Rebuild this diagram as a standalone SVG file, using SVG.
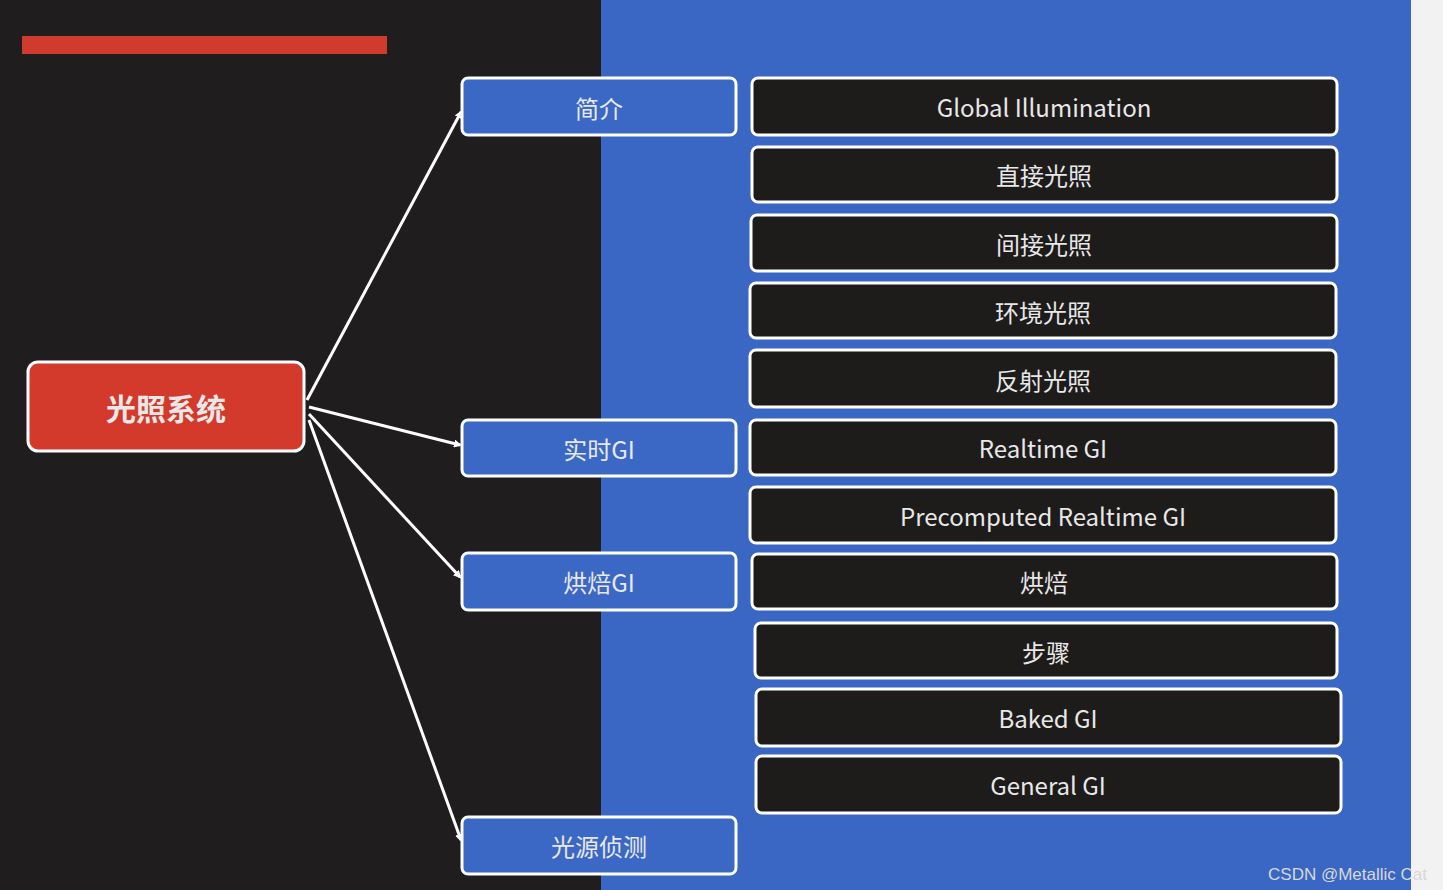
<svg xmlns="http://www.w3.org/2000/svg" width="1443" height="890" viewBox="0 0 1443 890">
<defs>
<style>
.b{fill:#3b68c4;stroke:#fff;stroke-width:3}
.k{fill:#1e1b1b;stroke:#fff;stroke-width:3}
.t{font-family:"Noto Sans CJK SC","Noto Sans",sans-serif;font-size:24px;fill:#e8e8e8;text-anchor:middle;dominant-baseline:central}
.c{stroke:#fff;stroke-width:3;fill:none;marker-end:url(#a)}
</style>
<marker id="a" markerWidth="8" markerHeight="8" refX="6" refY="4" orient="auto" markerUnits="userSpaceOnUse"><path d="M0,0L8,4L0,8z" fill="#fff"/></marker>
</defs>
<rect width="1443" height="890" fill="#1f1d1d"/>
<rect x="601" y="0" width="810" height="890" fill="#3a67c3"/>
<rect x="1411" y="0" width="32" height="890" fill="#f2f2f2"/>
<rect x="22" y="36" width="365" height="18" fill="#cf3b2c"/>
<g id="connectors">
<path class="c" d="M307,400L461,112"/>
<path class="c" d="M309,407L460,445"/>
<path class="c" d="M309,414L460,577"/>
<path class="c" d="M309,420L461,840"/>
</g>
<g id="root"><rect x="28" y="362" width="276" height="89" rx="10" fill="#d33a2c" stroke="#fff" stroke-width="3"/><text class="t" x="166" y="407" style="font-size:30px;font-weight:bold">光照系统</text></g>
<g id="n1"><rect class="b" x="462" y="78" width="274" height="57" rx="6"/><text class="t" x="599" y="107">简介</text></g>
<g id="n2"><rect class="b" x="462" y="420" width="274" height="56" rx="6"/><text class="t" x="599" y="448">实时GI</text></g>
<g id="n3"><rect class="b" x="462" y="553" width="274" height="57" rx="6"/><text class="t" x="599" y="581">烘焙GI</text></g>
<g id="n4"><rect class="b" x="462" y="817" width="274" height="57" rx="6"/><text class="t" x="599" y="845">光源侦测</text></g>
<g id="r1"><rect class="k" x="752" y="78" width="585" height="57" rx="6"/><text class="t" x="1044" y="106">Global Illumination</text></g>
<g id="r2"><rect class="k" x="752" y="147" width="585" height="55" rx="6"/><text class="t" x="1044" y="174">直接光照</text></g>
<g id="r3"><rect class="k" x="751" y="215" width="586" height="56" rx="6"/><text class="t" x="1044" y="243">间接光照</text></g>
<g id="r4"><rect class="k" x="750" y="283" width="586" height="55" rx="6"/><text class="t" x="1043" y="311">环境光照</text></g>
<g id="r5"><rect class="k" x="750" y="350" width="586" height="57" rx="6"/><text class="t" x="1043" y="379">反射光照</text></g>
<g id="r6"><rect class="k" x="750" y="420" width="586" height="55" rx="6"/><text class="t" x="1043" y="447">Realtime GI</text></g>
<g id="r7"><rect class="k" x="750" y="487" width="586" height="56" rx="6"/><text class="t" x="1043" y="515">Precomputed Realtime GI</text></g>
<g id="r8"><rect class="k" x="752" y="554" width="585" height="55" rx="6"/><text class="t" x="1044" y="581">烘焙</text></g>
<g id="r9"><rect class="k" x="755" y="623" width="582" height="55" rx="6"/><text class="t" x="1046" y="651">步骤</text></g>
<g id="r10"><rect class="k" x="756" y="689" width="585" height="57" rx="6"/><text class="t" x="1048" y="717">Baked GI</text></g>
<g id="r11"><rect class="k" x="756" y="756" width="585" height="57" rx="6"/><text class="t" x="1048" y="784">General GI</text></g>
<text x="1427" y="880" style="font-family:'Liberation Sans',sans-serif;font-size:17px;fill:#d8d8d8;text-anchor:end">CSDN @Metallic Cat</text>
</svg>
